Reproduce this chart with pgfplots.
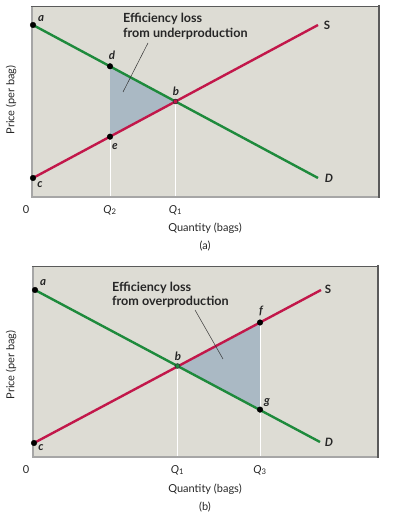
\documentclass[border=0pt]{standalone}
\usepackage{fontspec}
\setmainfont{Lato}
\usepackage{pgfplots}
\pgfplotsset{compat=1.18}
\definecolor{bg}{HTML}{DDDCD4}
\definecolor{dgreen}{HTML}{1E8A3C}
\definecolor{dred}{HTML}{C2174A}
\definecolor{shade}{HTML}{AAB9C4}
\definecolor{lframe}{HTML}{A6A6A6}
\definecolor{dframe}{HTML}{5A5A5A}
\tikzset{
  lbl/.style={font=\bfseries\itshape\fontsize{11.5}{13}\selectfont, text=black!85},
  tl/.style={font=\fontsize{11}{13}\selectfont, text=black!85},
  ann/.style={anchor=west, font=\bfseries\fontsize{12.6}{14}\selectfont, text=black!85, inner sep=0pt},
}
\begin{document}
\begin{tikzpicture}[x=1pt,y=1pt]
\path (0,0) rectangle (395,521);
\pgfplotsset{
  econ/.style={
    scale only axis, clip=false, axis line style={draw=none},
    xtick=\empty, ytick=\empty, ymin=0, ymax=191,
    axis background/.style={fill=bg},
    every axis plot/.append style={line width=2.4pt},
  },
  dot/.style={only marks, mark=*, mark size=2.8pt, mark options={fill=black, draw=black, line width=0.4pt}},
}
% ---------------- Panel (a)
\begin{axis}[econ, at={(32,324)}, anchor=south west, width=347pt, height=191pt, xmin=0, xmax=347]
\addplot[fill=shade, draw=none, line width=0pt] coordinates {(78,130.7) (78,60.3) (143.5,95.5) (78,130.7)};
\addplot[white, line width=1pt] coordinates {(78,0) (78,60.3)};
\addplot[white, line width=1pt] coordinates {(143.5,0) (143.5,95.5)};
\addplot[dred] coordinates {(1,19) (286,172)};
\addplot[dgreen] coordinates {(1,172) (286,19)};
\addplot[dot] coordinates {(1,172) (78,130.7) (78,60.3) (1,19)};
\addplot[only marks, mark=*, mark size=2.4pt, mark options={fill=dred, draw=black!80, line width=0.6pt}] coordinates {(143.5,95.5)};
\draw[lframe, line width=2.5pt] (axis cs:0,191) -- (axis cs:0,0) -- (axis cs:347,0);
\draw[dframe, line width=0.9pt] (axis cs:-1.2,191) -- (axis cs:347,191);
\draw[dframe, line width=2.5pt] (axis cs:347,192) -- (axis cs:347,-1.2);
\draw[black!80, line width=0.5pt] (axis cs:116,154) -- (axis cs:91,105);
\node[ann] at (axis cs:91,178.5) {Efficiency loss};
\node[ann] at (axis cs:91,163.5) {from underproduction};
\node[lbl] at (axis cs:9,178) {a};
\node[lbl] at (axis cs:80,142) {d};
\node[lbl] at (axis cs:144,106) {b};
\node[lbl] at (axis cs:83,50) {e};
\node[lbl] at (axis cs:8,12) {c};
\node[lbl, font=\bfseries\fontsize{11.5}{13}\selectfont] at (axis cs:295,172) {S};
\node[lbl] at (axis cs:297,19) {D};
\node[tl] at (axis cs:-6,-13) {0};
\node[tl] at (axis cs:78,-13) {\textit{Q}\textsubscript{2}};
\node[tl] at (axis cs:143.5,-13) {\textit{Q}\textsubscript{1}};
\node[tl] at (axis cs:173,-31) {Quantity (bags)};
\node[tl] at (axis cs:173,-49) {(a)};
\node[tl, rotate=90] at (axis cs:-21,97) {Price (per bag)};
\end{axis}
% ---------------- Panel (b)
\begin{axis}[econ, at={(33,64)}, anchor=south west, width=345pt, height=191pt, xmin=0, xmax=345]
\addplot[fill=shade, draw=none, line width=0pt] coordinates {(144.5,91) (227,134.5) (227,47.4) (144.5,91)};
\addplot[white, line width=1pt] coordinates {(144.5,0) (144.5,91)};
\addplot[white, line width=1pt] coordinates {(227,0) (227,134.5)};
\addplot[dred] coordinates {(1,14) (288,167)};
\addplot[dgreen] coordinates {(2,167) (287,15)};
\addplot[dot] coordinates {(2,167) (227,134.5) (227,47.4) (1,14)};
\addplot[only marks, mark=*, mark size=2.4pt, mark options={fill=dgreen, draw=black!80, line width=0.6pt}] coordinates {(144.5,91)};
\draw[lframe, line width=2.5pt] (axis cs:0,191) -- (axis cs:0,0) -- (axis cs:345,0);
\draw[dframe, line width=0.9pt] (axis cs:-1.2,191) -- (axis cs:345,191);
\draw[dframe, line width=2.5pt] (axis cs:345,192) -- (axis cs:345,-1.2);
\draw[black!80, line width=0.5pt] (axis cs:162,147) -- (axis cs:190,98);
\node[ann] at (axis cs:79,169) {Efficiency loss};
\node[ann] at (axis cs:79,155) {from overproduction};
\node[lbl] at (axis cs:10,174) {a};
\node[lbl] at (axis cs:145,101) {b};
\node[lbl] at (axis cs:228,146) {f};
\node[lbl] at (axis cs:234,54) {g};
\node[lbl] at (axis cs:8,9) {c};
\node[lbl, font=\bfseries\fontsize{11.5}{13}\selectfont] at (axis cs:295,168) {S};
\node[lbl] at (axis cs:296,15) {D};
\node[tl] at (axis cs:-7,-13) {0};
\node[tl] at (axis cs:144.5,-13) {\textit{Q}\textsubscript{1}};
\node[tl] at (axis cs:227,-13) {\textit{Q}\textsubscript{3}};
\node[tl] at (axis cs:172,-32) {Quantity (bags)};
\node[tl] at (axis cs:172,-50) {(b)};
\node[tl, rotate=90] at (axis cs:-22,92) {Price (per bag)};
\end{axis}
\end{tikzpicture}
\end{document}
